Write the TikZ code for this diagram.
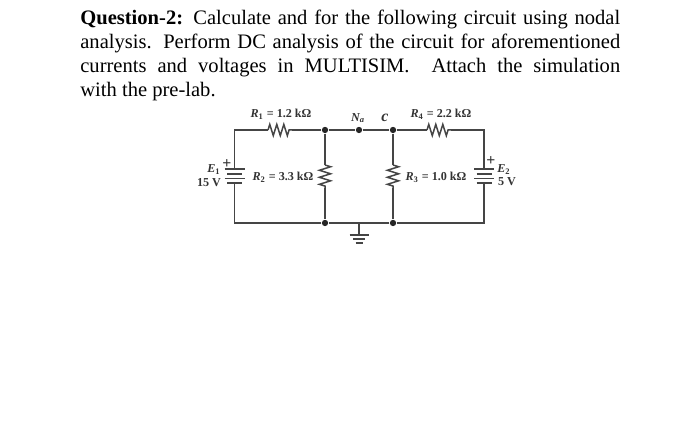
\documentclass[tikz,border=0pt]{standalone}
\usepackage{fontspec}
\setmainfont{Liberation Serif}
\usetikzlibrary{decorations.pathmorphing}
\definecolor{wirecol}{gray}{0.27}
\tikzstyle{para} = [inner sep=0pt, anchor=north west, text width=10.8cm, align=justify, font={\fontsize{11.7}{13.7}\selectfont}]
\tikzstyle{wire} = [draw=wirecol, line width=0.85pt]
\tikzstyle{resline} = [wire, decorate, decoration={zigzag, segment length=4pt, amplitude=3.2pt}]
\tikzstyle{plate} = [wire, line width=1pt]
\tikzstyle{junction} = [circle, fill=black!85, inner sep=0pt, minimum size=3.6pt]
\tikzstyle{val} = [inner sep=0pt, text=black!80, font={\fontsize{6.9}{8}\selectfont\bfseries}]
\tikzstyle{bigval} = [val, font={\fontsize{9}{10}\selectfont\bfseries}]

\begin{document}
\begin{tikzpicture}[x=0.02cm, y=-0.02cm]
    \useasboundingbox (0,0) rectangle (700,445);
    \node[para](question) at (80,9.2){\textbf{Question-2:} Calculate and for the following circuit using nodal\linebreak
      analysis. Perform DC analysis of the circuit for aforementioned\linebreak
      currents and voltages in MULTISIM. \ Attach the simulation\linebreak
      with the pre-lab.};
    % corners and junctions
    \coordinate(tl) at (234.5,130);
    \coordinate(bl) at (234.5,223);
    \coordinate(tr) at (484,130);
    \coordinate(br) at (484,223);
    \node[junction](a) at (325,130){};
    \node[junction](na) at (359,130){};
    \node[junction](c) at (393,130){};
    \node[junction](abot) at (325,223){};
    \node[junction](cbot) at (393,223){};
    \coordinate(g) at (359,223);
    \coordinate(gtop) at (359,235);
    % resistor ends
    \coordinate(r1a) at (268,130);
    \coordinate(r1b) at (292,130);
    \coordinate(r4a) at (427,130);
    \coordinate(r4b) at (451,130);
    \coordinate(r2a) at (325,165);
    \coordinate(r2b) at (325,188);
    \coordinate(r3a) at (393,165);
    \coordinate(r3b) at (393,188);
    % battery ends
    \coordinate(e1a) at (234.5,169);
    \coordinate(e1b) at (234.5,183);
    \coordinate(e2a) at (484,169);
    \coordinate(e2b) at (484,183);
    \draw[wire](e1a)--(tl)--(r1a);
    \draw[wire](r1b)--(a)--(na)--(c)--(r4a);
    \draw[wire](r4b)--(tr)--(e2a);
    \draw[wire](e2b)--(br)--(cbot)--(g)--(abot)--(bl)--(e1b);
    \draw[wire](a)--(r2a);
    \draw[wire](r2b)--(abot);
    \draw[wire](c)--(r3a);
    \draw[wire](r3b)--(cbot);
    \draw[wire](g)--(gtop);
    \draw[resline](r1a)--(r1b);
    \draw[resline](r4a)--(r4b);
    \draw[resline](r2a)--(r2b);
    \draw[resline](r3a)--(r3b);
    % battery plates
    \foreach \y/\w in {0/10,4.7/7.5,9.4/10,14/7.5}{
      \draw[plate]([shift={(-\w,\y)}]e1a)--([shift={(\w,\y)}]e1a);
      \draw[plate]([shift={(-\w,\y)}]e2a)--([shift={(\w,\y)}]e2a);
    }
    % ground
    \draw[plate]([shift={(-9.5,0)}]gtop)--([shift={(9.5,0)}]gtop);
    \draw[plate]([shift={(-6,4)}]gtop)--([shift={(6,4)}]gtop);
    \draw[plate]([shift={(-3.5,8)}]gtop)--([shift={(3.5,8)}]gtop);
    % labels
    \node[val](r1lab) at (281,114){\textit{R}\textsubscript{1} = 1.2 kΩ};
    \node[val](r4lab) at (441,114){\textit{R}\textsubscript{4} = 2.2 kΩ};
    \node[val](r2lab) at (283,177){\textit{R}\textsubscript{2} = 3.3 kΩ};
    \node[val](r3lab) at (436,177){\textit{R}\textsubscript{3} = 1.0 kΩ};
    \node[val](nalab) at (358,118){\textit{N\textsubscript{a}}};
    \node[bigval](clab) at (385,117.5){\textit{c}};
    \node[val](e1lab) at (214,169.5){\textit{E}\textsubscript{1}};
    \node[val](e1val) at (209,183){15 V};
    \node[val](e2lab) at (504,169.5){\textit{E}\textsubscript{2}};
    \node[val](e2val) at (507,182){5 V};
    \node[bigval](e1plus) at (227,164){+};
    \node[bigval](e2plus) at (491,161){+};
  \end{tikzpicture}
\end{document}
